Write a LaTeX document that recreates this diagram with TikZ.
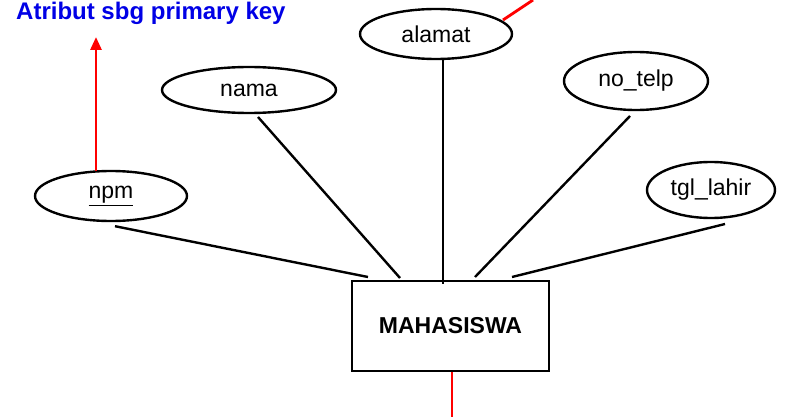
\documentclass[tikz,border=0pt]{standalone}
\usepackage{fontspec}
\setmainfont{Liberation Sans}
\usetikzlibrary{shapes.geometric,arrows.meta}
\begin{document}
\begin{tikzpicture}[x=1pt,y=-1pt,
  attr/.style={draw,line width=2.4pt,ellipse,inner sep=0pt,font=\fontsize{23}{26}\selectfont},
  conn/.style={line width=2.4pt},
  red/.style={draw={rgb,255:red,255;green,0;blue,0},line width=2.8pt}]
\useasboundingbox (0,0) rectangle (794,417);
\node[attr,minimum width=152,minimum height=50] (npm) at (111,196) {\underline{npm}};
\node[attr,minimum width=174,minimum height=46] (nama) at (249,90) {nama};
\node[attr,minimum width=152,minimum height=50] (alamat) at (436,34) {alamat};
\node[attr,minimum width=144,minimum height=58] (telp) at (636,81) {no\_telp};
\node[attr,minimum width=128,minimum height=56] (tgl) at (711,190) {tgl\_lahir};
\node[draw,line width=2.4pt,minimum width=197,minimum height=90,font=\bfseries\fontsize{23}{26}\selectfont] (m) at (450.5,326) {MAHASISWA};
\draw[conn] (npm.south) ++(4,4) coordinate (a1) -- (368,277) coordinate (b1);
\draw[conn] (258,117) coordinate (a2) -- (400,278) coordinate (b2);
\draw[conn] (alamat.south -| 443,0) -- (443,284) coordinate (b3);
\draw[conn] (630,116) coordinate (a4) -- (475,277) coordinate (b4);
\draw[conn] (725,224) coordinate (a5) -- (512,277) coordinate (b5);
\node[font=\bfseries\fontsize{24}{26}\selectfont,text={rgb,255:red,0;green,0;blue,230},anchor=west,inner sep=0] (t) at (16,13) {Atribut sbg primary key};
\draw[red,-{Triangle[length=13pt,width=11pt]}] (96,171) coordinate (r0) -- (96,37) coordinate (r1);
\draw[red] (503,20) coordinate (q0) -- (533,0) coordinate (q1);
\draw[red] (m.south -| 452,0) -- (452,417) coordinate (q2);
\end{tikzpicture}
\end{document}
